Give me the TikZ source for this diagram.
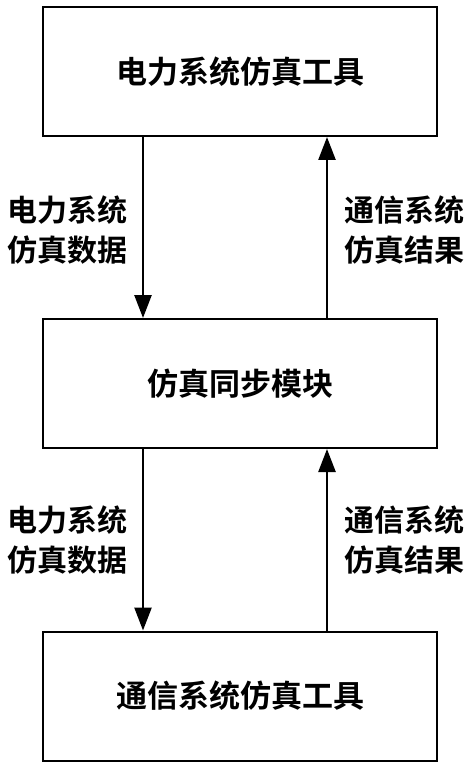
\documentclass[tikz,border=0pt]{standalone}
\usepackage{fontspec}
\newfontfamily\cjk{Noto Sans CJK SC Medium}[BoldFont={Noto Sans CJK SC Bold}]
\usetikzlibrary{arrows.meta}
\begin{document}
\begin{tikzpicture}[x=1pt,y=-1pt,
  box/.style={draw,line width=2pt,minimum width=394pt,minimum height=129pt,inner sep=0pt,font=\cjk\bfseries\fontsize{31}{31}\selectfont},
  lbl/.style={align=center,inner sep=0pt,font=\cjk\bfseries\fontsize{30}{40}\selectfont},
  arr/.style={line width=2.5pt,-{Triangle[length=23pt,width=17pt]}}]
\useasboundingbox (0,0) rectangle (474,770);
\node[box] (sim1) at (240,71.5) {电力系统仿真工具};
\node[box] (sync) at (240,383.5) {仿真同步模块};
\node[box] (sim2) at (240,696) {通信系统仿真工具};
\draw[arr] (sim1.south -| 143,0) -- (sync.north -| 143,0);
\draw[arr] (sync.north -| 327,0) -- (sim1.south -| 327,0);
\draw[arr] (sync.south -| 143,0) -- (sim2.north -| 143,0);
\draw[arr] (sim2.north -| 327,0) -- (sync.south -| 327,0);
\node[lbl] (l1) at (67,230) {电力系统\\仿真数据};
\node[lbl] (r1) at (404,230) {通信系统\\仿真结果};
\node[lbl] (l2) at (67,540) {电力系统\\仿真数据};
\node[lbl] (r2) at (404,540) {通信系统\\仿真结果};
\end{tikzpicture}
\end{document}
